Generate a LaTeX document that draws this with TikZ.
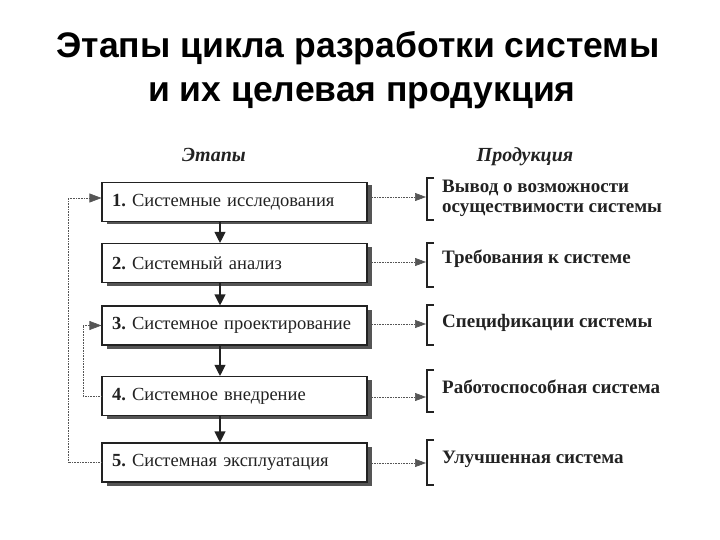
\documentclass[tikz,border=0pt]{standalone}
\usepackage{fontspec}
\setmainfont{Liberation Serif}
\newfontfamily\titlefont{Liberation Sans}
\usetikzlibrary{arrows.meta,positioning}
\definecolor{ink}{HTML}{222222}
\definecolor{shade}{HTML}{555555}
\tikzset{
  stagebox/.style={draw=ink, line width=1.1pt, fill=white, minimum width=265pt, minimum height=39pt,
    text width=245pt, inner xsep=10pt, align=left, font=\fontsize{18.5}{20}\selectfont, text=ink},
  shadowbox/.style={fill=shade, minimum width=265pt, minimum height=39pt},
  downarrow/.style={draw=ink, line width=1.1pt, -{Triangle[width=11pt,length=11pt]}},
  outarrow/.style={draw=shade, line width=0.6pt, densely dotted, -{Triangle[width=8pt,length=11pt]}},
  backline/.style={draw=shade, line width=0.6pt, densely dotted},
  backarrow/.style={draw=shade, line width=0.6pt, densely dotted, -{Triangle[width=9pt,length=12pt]}},
  prodtext/.style={anchor=base west, inner sep=0pt, font=\bfseries\fontsize{19}{20}\selectfont, text=ink},
  bracket/.style={draw=ink, line width=1.6pt},
  head/.style={anchor=base, inner sep=0pt, font=\bfseries\itshape\fontsize{20}{22}\selectfont, text=ink},
  titleline/.style={anchor=base, inner sep=0pt, font=\titlefont\bfseries\fontsize{35.5}{38}\selectfont},
}
\begin{document}
\begin{tikzpicture}[x=1pt,y=-1pt]
\useasboundingbox (0,0) rectangle (720,540);
\node[titleline] (t1) at (358,58) {Этапы цикла разработки системы};
\node[titleline] (t2) at (362,102) {и их целевая продукция};
\node[head] (h1) at (214,162) {Этапы};
\node[head] (h2) at (525,162) {Продукция};
% shadows
\foreach \y/\n in {201/1,263/2,325.5/3,396/4,462.5/5}{
  \node[shadowbox] (s\n) at (239.5,\y+3.5) {};
}
\node[stagebox] (b1) at (234.5,202) {\textbf{1.}\ Системные исследования};
\node[stagebox] (b2) at (234.5,263) {\textbf{2.}\ Системный анализ};
\node[stagebox] (b3) at (234.5,325.5) {\textbf{3.}\ Системное проектирование};
\node[stagebox] (b4) at (234.5,396) {\textbf{4.}\ Системное внедрение};
\node[stagebox] (b5) at (234.5,462.5) {\textbf{5.}\ Системная эксплуатация};
% down arrows
\draw[downarrow] (b1.south -| 220,0) -- (b2.north -| 220,0);
\draw[downarrow] (b2.south -| 220,0) -- (b3.north -| 220,0);
\draw[downarrow] (b3.south -| 220,0) -- (b4.north -| 220,0);
\draw[downarrow] (b4.south -| 220,0) -- (b5.north -| 220,0);
% feedback loops
\coordinate (c1) at (68,462.5);
\coordinate (c2) at (68,198);
\draw[backline] (b5.west) -- (c1) -- (c2);
\draw[backarrow] (c2) -- (b1.west |- c2);
\coordinate (c3) at (83,396);
\coordinate (c4) at (83,325.5);
\draw[backline] (b4.west) -- (c3) -- (c4);
\draw[backarrow] (c4) -- (b3.west);
% brackets
\foreach \t/\b/\n in {178/220/1,243/287/2,305/345/3,370/412/4,440/485/5}{
  \draw[bracket] (434,\t) -- (427,\t) -- (427,\b) -- (434,\b);
  \coordinate (k\n) at (426,{(\t+\b)/2});
}
\draw[outarrow] (s1.east |- 0,197) -- (k1 |- 0,197);
\draw[outarrow] (s2.east |- 0,262) -- (k2 |- 0,262);
\draw[outarrow] (s3.east |- 0,324) -- (k3 |- 0,324);
\draw[outarrow] (s4.east |- 0,397) -- (k4 |- 0,397);
\draw[outarrow] (s5.east |- 0,463) -- (k5 |- 0,463);
% products
\node[prodtext] (p1a) at (442,193) {Вывод о возможности};
\node[prodtext] (p1b) at (442,212) {осуществимости системы};
\node[prodtext] (p2) at (442,263) {Требования к системе};
\node[prodtext] (p3) at (442,327) {Спецификации системы};
\node[prodtext] (p4) at (442,393) {Работоспособная система};
\node[prodtext] (p5) at (442,463) {Улучшенная система};
\end{tikzpicture}
\end{document}
